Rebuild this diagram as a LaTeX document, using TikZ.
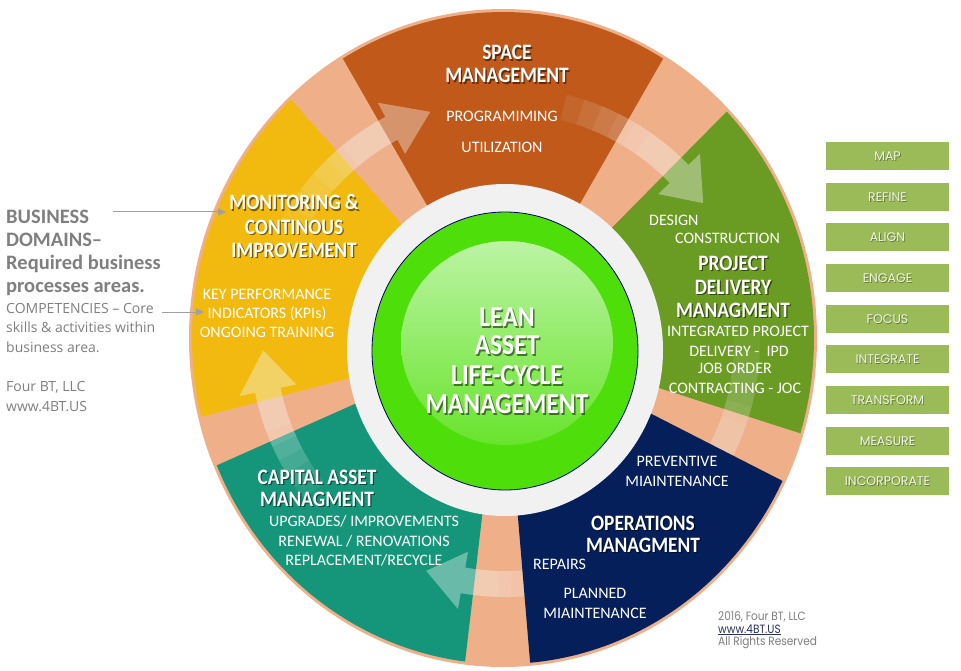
\documentclass[tikz,border=0pt]{standalone}
\usepackage{fontspec}
\setmainfont{Carlito}
\newfontfamily\condfont[FakeStretch=0.88]{Carlito}
\newfontfamily\boxfont{Poppins}
\newfontfamily\copyfont[FakeStretch=0.88]{Poppins}
\newfontfamily\leftfont{Open Sans}
\usetikzlibrary{arrows.meta}
\definecolor{peach}{RGB}{239,176,137}
\definecolor{spacec}{RGB}{192,89,26}
\definecolor{projc}{RGB}{106,155,34}
\definecolor{opsc}{RGB}{5,31,90}
\definecolor{capc}{RGB}{21,150,122}
\definecolor{monc}{RGB}{242,186,14}
\definecolor{ringc}{RGB}{241,241,241}
\definecolor{lgreen}{RGB}{78,222,10}
\definecolor{ltop}{RGB}{188,244,164}
\definecolor{lbot}{RGB}{104,228,44}
\definecolor{boxc}{RGB}{155,187,89}
\definecolor{boxt}{RGB}{240,245,228}
\definecolor{greyt}{RGB}{127,127,127}
\definecolor{greyl}{RGB}{160,160,160}
\definecolor{linkc}{RGB}{40,50,90}
\def\cx{503}\def\cy{338}\def\rx{311}\def\ry{326}
\def\ax{505}\def\ay{342}\def\ar{242}
\newcommand\sector[3]{\fill[#1] (\cx,\cy) -- plot[domain=#2:#3,samples=60] ({\cx+\rx*cos(\x)},{\cy-\ry*sin(\x)}) -- cycle;}
\newcommand\arrowshape[4]{\fill[white,fill opacity=#4]
  plot[domain=#1:#2,samples=30] ({\ax+(\ar-13)*cos(\x)},{\ay-(\ar-13)*sin(\x)})
  -- ({\ax+(\ar-29)*cos(#2)},{\ay-(\ar-29)*sin(#2)})
  -- ({\ax+\ar*cos(#3)},{\ay-\ar*sin(#3)})
  -- ({\ax+(\ar+29)*cos(#2)},{\ay-(\ar+29)*sin(#2)})
  -- plot[domain=#2:#1,samples=30] ({\ax+(\ar+13)*cos(\x)},{\ay-(\ar+13)*sin(\x)}) -- cycle;}
\newcommand\carrow[4][0.075]{\foreach \k in {0,...,5}{\pgfmathsetmacro\st{#2+\k*0.13*(#3-#2)}\arrowshape{\st}{#3}{#4}{#1}}}
\newcommand\hdln[4]{\node[hd,text=black,text opacity=0.5,anchor=base] (#1-sh) at (#2+1.3,#3+8.3) {#4};
  \node[hd,anchor=base] (#1) at (#2,#3+7) {#4};}
\newcommand\ctln[4]{\node[ctr,text=black,text opacity=0.5,anchor=base] (#1-sh) at (#2+1.5,#3+11.2) {#4};
  \node[ctr,anchor=base] (#1) at (#2,#3+9.5) {#4};}
\newcommand\sbln[4]{\node[sub,anchor=base] (#1) at (#2,#3+5.2) {#4};}
\newcommand\sblw[4]{\node[sub,anchor=base west] (#1) at (#2,#3+5.2) {#4};}
\newcommand\gb[3]{\node[gbox] (#1) at (887.5,#2) {};
  \node[gtext,text=black,text opacity=0.35] (#1-sh) at (888.3,#2+0.8) {#3};
  \node[gtext] (#1-t) at (887.5,#2) {#3};}
\begin{document}
\begin{tikzpicture}[x=1pt,y=-1pt,
  hd/.style={text=white,inner sep=0pt,font=\condfont\bfseries\fontsize{22}{24}\selectfont},
  ctr/.style={text=white,inner sep=0pt,font=\condfont\bfseries\fontsize{29}{31}\selectfont},
  sub/.style={text=white,inner sep=0pt,font=\fontsize{16}{18}\selectfont},
  gbox/.style={fill=boxc,minimum width=123pt,minimum height=28pt,inner sep=0pt},
  gtext/.style={inner sep=0pt,text=boxt,font=\boxfont\fontsize{12.5}{13}\selectfont},
  lefthd/.style={text=greyt,inner sep=0pt,anchor=base west,font=\bfseries\fontsize{20.5}{22}\selectfont},
  lefttx/.style={text=greyt,inner sep=0pt,anchor=base west,font=\leftfont\fontsize{14}{16}\selectfont},
  copytx/.style={text=greyt,inner sep=0pt,anchor=base west,font=\copyfont\fontsize{12}{13}\selectfont},
  greyarrow/.style={draw=greyl,line width=1pt,-{Triangle[length=8pt,width=7pt]}}]
\useasboundingbox (0,0) rectangle (961,671);
\fill[white] (0,0) rectangle (961,671);
% ring
\fill[peach] (\cx,\cy) ellipse [x radius=314pt, y radius=329pt];
\sector{monc}{133}{194}
\sector{capc}{203}{263}
\sector{spacec}{59}{121}
\sector{projc}{-17}{44}
% flow arrows
\carrow{152}{118}{108}
\carrow{76}{44}{35}
\carrow[0.05]{2}{-30}{-38}
\carrow{-76}{-100}{-109}
\carrow{218}{191.5}{182}
\sector{opsc}{-85}{-26}
% centre
\fill[ringc] (505,350) ellipse [x radius=158pt, y radius=166pt];
\filldraw[fill=lgreen, draw=black!60!blue, line width=0.8pt] (505,351) ellipse [x radius=133pt, y radius=139pt];
\shade[top color=ltop, bottom color=lbot] (507,343) ellipse [x radius=106pt, y radius=102pt];
\ctln{c1}{507}{317}{LEAN}
\ctln{c2}{507}{345}{ASSET}
\ctln{c3}{507}{375}{LIFE-CYCLE}
\ctln{c4}{507}{404}{MANAGEMENT}
% space
\hdln{sp1}{507}{53}{SPACE}
\hdln{sp2}{507}{76}{MANAGEMENT}
\sbln{sp3}{502}{116}{PROGRAMIMING}
\sbln{sp4}{502}{147}{UTILIZATION}
% monitoring
\hdln{mo1}{294}{203}{MONITORING \&}
\hdln{mo2}{294}{227}{CONTINOUS}
\hdln{mo3}{294}{250}{IMPROVEMENT}
\sbln{mo4}{267}{294}{KEY PERFORMANCE}
\sbln{mo5}{267}{313}{INDICATORS (KPIs)}
\sbln{mo6}{267}{332}{ONGOING TRAINING}
% project
\sblw{pd1}{649}{220}{DESIGN}
\sblw{pd2}{675}{238}{CONSTRUCTION}
\hdln{pd3}{733}{263}{PROJECT}
\hdln{pd4}{733}{287}{DELIVERY}
\hdln{pd5}{733}{310}{MANAGMENT}
\sbln{pd6}{738}{331}{INTEGRATED PROJECT}
\sbln{pd7}{739}{351}{DELIVERY -\ \ IPD}
\sbln{pd8}{735}{368}{JOB ORDER}
\sbln{pd9}{735}{388}{CONTRACTING - JOC}
% operations
\sbln{op1}{677}{461}{PREVENTIVE}
\sbln{op2}{677}{481}{MIAINTENANCE}
\hdln{op3}{643}{523}{OPERATIONS}
\hdln{op4}{643}{545}{MANAGMENT}
\sblw{op5}{533}{564}{REPAIRS}
\sbln{op6}{595}{593}{PLANNED}
\sbln{op7}{595}{613}{MIAINTENANCE}
% capital
\hdln{ca1}{317}{477}{CAPITAL ASSET}
\hdln{ca2}{317}{499}{MANAGMENT}
\sbln{ca3}{364}{521}{UPGRADES/ IMPROVEMENTS}
\sbln{ca4}{364}{541}{RENEWAL / RENOVATIONS}
\sbln{ca5}{364}{560}{REPLACEMENT/RECYCLE}
% right boxes
\gb{b1}{156}{MAP}
\gb{b2}{197}{REFINE}
\gb{b3}{237}{ALIGN}
\gb{b4}{278}{ENGAGE}
\gb{b5}{319}{FOCUS}
\gb{b6}{359}{INTEGRATE}
\gb{b7}{400}{TRANSFORM}
\gb{b8}{441}{MEASURE}
\gb{b9}{481}{INCORPORATE}
% left legend
\node[lefthd] (l1) at (6,224) {BUSINESS};
\node[lefthd] (l2) at (6,247) {DOMAINS–};
\node[lefthd] (l3) at (6,269.5) {Required business};
\node[lefthd] (l4) at (6,292) {processes areas.};
\node[lefttx] (l5) at (6,313) {COMPETENCIES – Core};
\node[lefttx] (l6) at (6,332) {skills \& activities within};
\node[lefttx] (l7) at (6,352) {business area.};
\node[lefttx] (l8) at (6,391) {Four BT, LLC};
\node[lefttx] (l9) at (6,411) {www.4BT.US};
\coordinate (a1s) at (113,212);
\coordinate (a1e) at (226,212);
\coordinate (a2s) at (162,312);
\coordinate (a2e) at (204,312);
\draw[greyarrow] (a1s) -- (a1e);
\draw[greyarrow] (a2s) -- (a2e);
% copyright
\node[copytx] (r1) at (718,620) {2016, Four BT, LLC};
\node[copytx,text=linkc] (r2) at (718,633) {\underline{www.4BT.US}};
\node[copytx] (r3) at (718,645) {All Rights Reserved};
\end{tikzpicture}
\end{document}
